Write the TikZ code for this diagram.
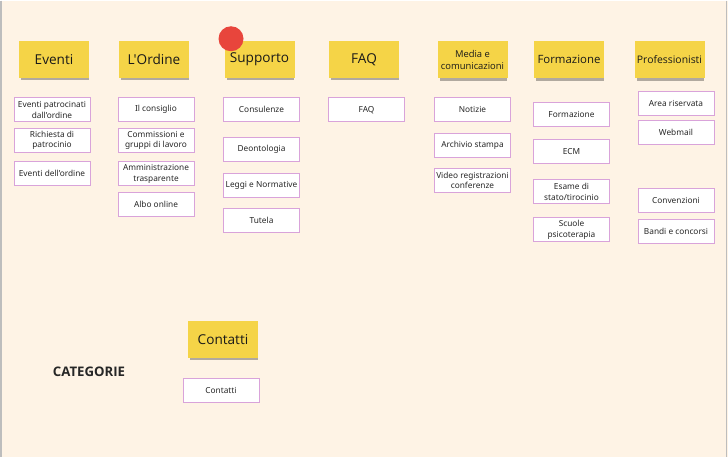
\documentclass[tikz,border=0pt]{standalone}
\usepackage{fontspec}
\setmainfont{Noto Sans}
\newfontfamily\notefont{Open Sans}
\usetikzlibrary{shadows}
\definecolor{paper}{HTML}{FEF3E5}
\definecolor{sticky}{HTML}{F5D447}
\definecolor{pinkline}{HTML}{D9A3DA}
\definecolor{dotred}{HTML}{E8453C}
\definecolor{edgegray}{HTML}{BDBDBD}

\begin{document}
\begin{tikzpicture}[x=1pt, y=-1pt, inner sep=1pt,
   note/.style={fill=sticky, minimum width=70pt, minimum height=37pt, align=center,
     font=\notefont\fontsize{13.6}{15}\selectfont, text=black!90,
     drop shadow={shadow xshift=1pt, shadow yshift=-3.5pt, shadow scale=0.96, fill=black, opacity=.3}},
   smallnote/.style={note, font=\notefont\fontsize{9.4}{12}\selectfont},
   page/.style={fill=white, draw=pinkline, line width=0.8pt, minimum width=76pt,
     minimum height=24pt, align=center, font=\fontsize{8.3}{10.5}\selectfont, text=black!85}
   ]

   % background and edges
   \fill[paper] (0,0) rectangle (728,456);
   \draw[edgegray, line width=1.5pt] (1,0) -- (1,456);
   \draw[edgegray, line width=1.5pt] (726.5,0) -- (726.5,456);

   % categories
   \node[note] (ev) at (54,58.5) {Eventi};
   \node[note] (ord) at (154,58.5) {L'Ordine};
   \node[note] (sup) at (259.5,58.5) {Supporto};
   \node[note] (faq) at (364,58.5) {FAQ};
   \node[smallnote] (med) at (472.5,59) {Media e\\comunicazioni};
   \node[note, font=\notefont\fontsize{11.4}{13}\selectfont] (form) at (569,59) {Formazione};
   \node[note, font=\notefont\fontsize{10.4}{12}\selectfont] (prof) at (669.5,59) {Professionisti};
   \node[note] (cont) at (223,338.5) {Contatti};

   \fill[dotred] (231,38) circle (12.5pt);

   % Eventi
   \node[page] (ev1) at (52,109) {Eventi patrocinati\\dall'ordine};
   \node[page] (ev2) at (52,139.5) {Richiesta di\\patrocinio};
   \node[page] (ev3) at (52,173) {Eventi dell'ordine};

   % L'Ordine
   \node[page] (ord1) at (156,109) {Il consiglio};
   \node[page] (ord2) at (156,139.5) {Commissioni e\\gruppi di lavoro};
   \node[page] (ord3) at (156,173) {Amministrazione\\trasparente};
   \node[page] (ord4) at (156,204) {Albo online};

   % Supporto
   \node[page] (sup1) at (261.5,109) {Consulenze};
   \node[page] (sup2) at (261.5,149) {Deontologia};
   \node[page] (sup3) at (261.5,185) {Leggi e Normative};
   \node[page] (sup4) at (261.5,220) {Tutela};

   % FAQ
   \node[page] (faq1) at (366.5,109) {FAQ};

   % Media
   \node[page] (med1) at (472.5,109) {Notizie};
   \node[page] (med2) at (472.5,145) {Archivio stampa};
   \node[page] (med3) at (472.5,179.5) {Video registrazioni\\conferenze};

   % Formazione
   \node[page] (form1) at (571.5,113.5) {Formazione};
   \node[page] (form2) at (571.5,151) {ECM};
   \node[page] (form3) at (571.5,191) {Esame di\\stato/tirocinio};
   \node[page] (form4) at (571.5,229) {Scuole\\psicoterapia};

   % Professionisti
   \node[page] (prof1) at (676,103) {Area riservata};
   \node[page] (prof2) at (676,132) {Webmail};
   \node[page] (prof3) at (676,200) {Convenzioni};
   \node[page] (prof4) at (676,231) {Bandi e concorsi};

   % Contatti
   \node[page] (cont1) at (221,390) {Contatti};

   \node[font=\notefont\bfseries\fontsize{13.2}{15}\selectfont, text=black!85] (cat) at (89,371) {CATEGORIE};

   \useasboundingbox (0,0) rectangle (728,456);
\end{tikzpicture}
\end{document}
